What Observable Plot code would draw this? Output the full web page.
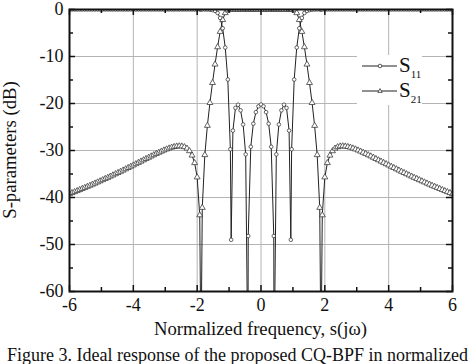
<!DOCTYPE html>
<html>
<head>
<meta charset="utf-8">
<script src="https://cdn.jsdelivr.net/npm/d3@7"></script>
<script src="https://cdn.jsdelivr.net/npm/@observablehq/plot@0.6"></script>
<style>
  html, body { margin: 0; padding: 0; background: #fff; }
  #wrap { position: relative; width: 474px; height: 364px; overflow: hidden; background: #fff;
          font-family: "Liberation Serif", "Times New Roman", serif; color: #111; }
  #chart svg { font-family: "Liberation Serif", "Times New Roman", serif !important; font-size: 18px !important; background: #fff; }
  #chart svg text { font-family: "Liberation Serif", "Times New Roman", serif !important; font-size: 18px !important; fill: #111; }
  #overlay { position: absolute; left: 0; top: 0; pointer-events: none; }
  #caption { position: absolute; left: 7px; top: 346px; white-space: nowrap; font-size: 18px; line-height: 1; }
</style>
</head>
<body>
<div id="wrap">
  <div id="chart"></div>
  <svg id="overlay" width="474" height="364"></svg>
  <div id="caption">Figure 3. Ideal response of the proposed CQ-BPF in normalized</div>
</div>
<script>
// Normalized frequency samples
const freq = [
-6.00,-5.92,-5.84,-5.76,-5.68,-5.60,-5.52,-5.44,-5.36,-5.28,
-5.20,-5.12,-5.04,-4.96,-4.88,-4.80,-4.72,-4.64,-4.56,-4.48,
-4.40,-4.32,-4.24,-4.16,-4.08,-4.00,-3.92,-3.84,-3.76,-3.68,
-3.60,-3.52,-3.44,-3.36,-3.28,-3.20,-3.12,-3.04,-2.96,-2.88,
-2.80,-2.72,-2.64,-2.56,-2.48,-2.40,-2.32,-2.24,-2.16,-2.08,
-2.00,-1.92,-1.88,-1.84,-1.76,-1.68,-1.60,-1.52,-1.44,-1.36,
-1.28,-1.20,-1.12,-1.04,-0.96,-0.935,-0.88,-0.80,-0.72,-0.64,
-0.56,-0.48,-0.41,-0.40,-0.32,-0.24,-0.16,-0.08,0,0.08,
0.16,0.24,0.32,0.40,0.41,0.48,0.56,0.64,0.72,0.80,
0.88,0.935,0.96,1.04,1.12,1.20,1.28,1.36,1.44,1.52,
1.60,1.68,1.76,1.84,1.88,1.92,2.00,2.08,2.16,2.24,
2.32,2.40,2.48,2.56,2.64,2.72,2.80,2.88,2.96,3.04,
3.12,3.20,3.28,3.36,3.44,3.52,3.60,3.68,3.76,3.84,
3.92,4.00,4.08,4.16,4.24,4.32,4.40,4.48,4.56,4.64,
4.72,4.80,4.88,4.96,5.04,5.12,5.20,5.28,5.36,5.44,
5.52,5.60,5.68,5.76,5.84,5.92,6.00];

// S11 (dB)
const s11 = [
0,0,0,0,0,0,0,0,0,0,
0,0,0,0,0,0,0,0,0,0,
0,0,0,0,0,0,0,0,0,0,
0,0,0,0,0,0,0,0,0,0,
0,0,0,0,0,0,0,0,0,0,
0,0,0,0,0,-0.01,-0.05,-0.12,-0.31,-0.75,
-1.79,-4.00,-8.09,-14.90,-29.73,-49.00,-25.77,-20.94,-20.26,-21.46,
-24.47,-30.82,-76.40,-48.20,-29.20,-24.30,-21.84,-20.60,-20.22,-20.60,
-21.84,-24.30,-29.20,-48.20,-76.40,-30.82,-24.47,-21.46,-20.26,-20.94,
-25.77,-49.00,-29.73,-14.90,-8.09,-4.00,-1.79,-0.75,-0.31,-0.12,
-0.05,-0.01,0,0,0,0,0,0,0,0,
0,0,0,0,0,0,0,0,0,0,
0,0,0,0,0,0,0,0,0,0,
0,0,0,0,0,0,0,0,0,0,
0,0,0,0,0,0,0,0,0,0,
0,0,0,0,0,0,0];

// S21 (dB)
const s21 = [
-39.24,-39.02,-38.81,-38.59,-38.37,-38.14,-37.92,-37.69,-37.46,-37.22,
-36.99,-36.75,-36.51,-36.26,-36.01,-35.77,-35.51,-35.26,-35.00,-34.74,
-34.48,-34.22,-33.95,-33.68,-33.41,-33.14,-32.87,-32.59,-32.32,-32.04,
-31.77,-31.50,-31.22,-30.96,-30.69,-30.44,-30.19,-29.95,-29.73,-29.53,
-29.35,-29.21,-29.11,-29.07,-29.10,-29.25,-29.56,-30.11,-31.04,-32.64,
-35.68,-43.74,-75.00,-42.16,-30.94,-24.71,-19.85,-15.60,-11.67,-7.99,
-4.72,-2.20,-0.73,-0.14,-0.01,0,-0.01,-0.04,-0.04,-0.03,
-0.02,0,0,0,-0.01,-0.02,-0.03,-0.04,-0.04,-0.04,
-0.03,-0.02,-0.01,0,0,0,-0.02,-0.03,-0.04,-0.04,
-0.01,0,-0.01,-0.14,-0.73,-2.20,-4.72,-7.99,-11.67,-15.60,
-19.85,-24.71,-30.94,-42.16,-75.00,-43.74,-35.68,-32.64,-31.04,-30.11,
-29.56,-29.25,-29.10,-29.07,-29.11,-29.21,-29.35,-29.53,-29.73,-29.95,
-30.19,-30.44,-30.69,-30.96,-31.22,-31.50,-31.77,-32.04,-32.32,-32.59,
-32.87,-33.14,-33.41,-33.68,-33.95,-34.22,-34.48,-34.74,-35.00,-35.26,
-35.51,-35.77,-36.01,-36.26,-36.51,-36.75,-36.99,-37.22,-37.46,-37.69,
-37.92,-38.14,-38.37,-38.59,-38.81,-39.02,-39.24];

// Axis ticks / grid
const xMajor = [-6, -4, -2, 0, 2, 4, 6];
const xMinor = [-5, -3, -1, 1, 3, 5];
const xGrid = [-4, -2, 0, 2, 4];
const yMajor = [-60, -50, -40, -30, -20, -10, 0];
const yMinor = [-55, -45, -35, -25, -15, -5];
const yGrid = [-50, -40, -30, -20, -10];
const seriesNames = ["S11", "S21"];
const xTitle = "Normalized frequency, s(jω)";
const yTitle = "S-parameters (dB)";

const data = freq.map((f, i) => ({f, s11: s11[i], s21: s21[i]}));

const W = 474, Hs = 340, mL = 69, mR = 22, mT = 9, mB = 49;
const iw = W - mL - mR, ih = Hs - mT - mB;
const ink = "#222";

const chart = Plot.plot({
  width: W, height: Hs,
  marginLeft: mL, marginRight: mR, marginTop: mT, marginBottom: mB,
  style: {fontFamily: "'Liberation Serif','Times New Roman',serif", fontSize: "18px", color: "#111", background: "white", overflow: "visible"},
  x: {domain: [-6, 6], ticks: xMajor, tickSize: 0, tickPadding: 7, tickFormat: d => String(d), label: null},
  y: {domain: [-60, 0], ticks: yMajor, tickSize: 0, tickPadding: 6, tickFormat: d => String(d), label: null},
  marks: [
    Plot.ruleX(xGrid, {stroke: "#b4b4b4", strokeWidth: 1}),
    Plot.ruleY(yGrid, {stroke: "#b4b4b4", strokeWidth: 1}),
    Plot.line(data, {x: "f", y: "s21", stroke: ink, strokeWidth: 1, clip: true}),
    Plot.line(data, {x: "f", y: "s11", stroke: ink, strokeWidth: 1, clip: true}),
    Plot.dot(data, {x: "f", y: "s21", symbol: "triangle", r: 2.2, fill: "white", stroke: "#333", strokeWidth: 0.75, clip: true}),
    Plot.dot(data, {x: "f", y: "s11", r: 1.8, fill: "white", stroke: "#333", strokeWidth: 0.75, clip: true}),
    // inward ticks
    Plot.ruleX(xMajor, {stroke: "#111", strokeWidth: 1.5, insetTop: ih - 6}),
    Plot.ruleX(xMinor, {stroke: "#111", strokeWidth: 1.5, insetTop: ih - 4}),
    Plot.ruleX(xMajor, {stroke: "#111", strokeWidth: 1.5, insetBottom: ih - 6}),
    Plot.ruleX(xMinor, {stroke: "#111", strokeWidth: 1.5, insetBottom: ih - 4}),
    Plot.ruleY(yMajor, {stroke: "#111", strokeWidth: 1.5, insetRight: iw - 6}),
    Plot.ruleY(yMinor, {stroke: "#111", strokeWidth: 1.5, insetRight: iw - 4}),
    Plot.ruleY(yMajor, {stroke: "#111", strokeWidth: 1.5, insetLeft: iw - 6}),
    Plot.ruleY(yMinor, {stroke: "#111", strokeWidth: 1.5, insetLeft: iw - 4}),
    Plot.frame({stroke: "#111", strokeWidth: 2})
  ]
});
document.getElementById("chart").appendChild(chart);

// Titles and legend overlay
const ns = "http://www.w3.org/2000/svg";
const ov = document.getElementById("overlay");
function el(tag, attrs, text) {
  const e = document.createElementNS(ns, tag);
  for (const k in attrs) e.setAttribute(k, attrs[k]);
  if (text != null) e.textContent = text;
  ov.appendChild(e);
  return e;
}
const ff = "'Liberation Serif','Times New Roman',serif";
el("text", {x: mL + iw / 2, y: 335, "text-anchor": "middle", "font-family": ff, "font-size": 18.7, fill: "#111"}, xTitle);
el("text", {transform: `translate(16,${mT + ih / 2}) rotate(-90)`, "text-anchor": "middle", "font-family": ff, "font-size": 18.7, fill: "#111"}, yTitle);

// legend
el("rect", {x: 357, y: 55, width: 65, height: 50, fill: "white"});
const legY = [66, 91];
seriesNames.forEach((name, i) => {
  const y = legY[i];
  el("line", {x1: 362, x2: 397, y1: y, y2: y, stroke: ink, "stroke-width": 1});
  if (i === 0) el("circle", {cx: 380, cy: y, r: 1.8, fill: "white", stroke: "#333", "stroke-width": 0.8});
  else el("path", {d: `M380,${y - 2.4}L382.2,${y + 1.4}L377.8,${y + 1.4}Z`, fill: "white", stroke: "#333", "stroke-width": 0.8});
  const t = el("text", {x: 399, y: y + 6, "font-family": ff, "font-size": 21, fill: "#111"}, name[0]);
  const sub = document.createElementNS(ns, "tspan");
  sub.setAttribute("font-size", 11);
  sub.setAttribute("dy", 5.5);
  sub.textContent = name.slice(1);
  t.appendChild(sub);
});
</script>
</body>
</html>
